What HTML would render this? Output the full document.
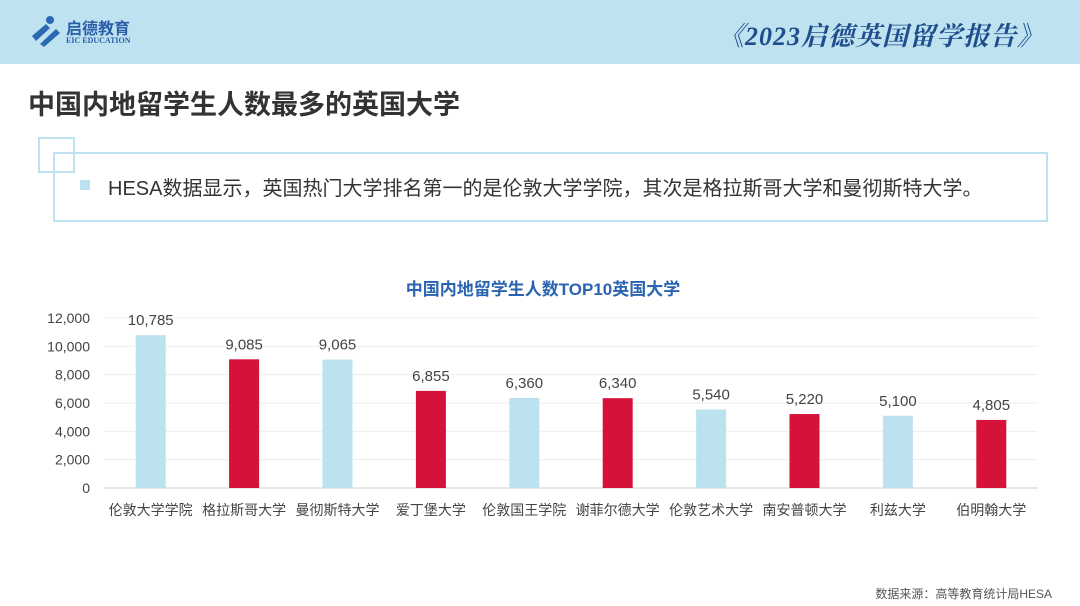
<!DOCTYPE html>
<html><head><meta charset="utf-8"><style>
body{margin:0;width:1080px;height:606px;overflow:hidden;background:#fff;font-family:"Liberation Sans","Noto Sans CJK SC",sans-serif;position:relative}
.abs{position:absolute}
</style></head><body>
<div class="abs" style="left:0;top:0;width:1080px;height:64px;background:#bee2f0"></div>
<div class="abs" style="left:28px;top:14px;width:110px;height:36px">
<svg width="34" height="34" style="position:absolute;left:0;top:0"><circle cx="22" cy="6" r="4" fill="#2a6ab5"/><path d="M4 22 L18 10 L22 14 L8 27Z M12 30 L28 15 L32 19 L16 33Z" fill="#2a6ab5"/></svg>
<div class="abs" style="left:38px;top:1px;font-size:16px;font-weight:bold;color:#2a5ea8;white-space:nowrap">启德教育</div>
<div class="abs" style="left:38px;top:22px;font-size:8px;font-weight:bold;color:#2a5ea8;font-family:'Liberation Serif',serif;white-space:nowrap">EIC EDUCATION</div>
</div>
<div class="abs" style="right:36px;top:16px;font-size:26px;letter-spacing:1px;font-weight:bold;font-style:italic;color:#1f4e8c;white-space:nowrap;font-family:'Liberation Serif','Noto Serif CJK SC',serif">《2023启德英国留学报告》</div>
<div class="abs" style="left:28px;top:83px;font-size:27px;font-weight:bold;color:#333;white-space:nowrap">中国内地留学生人数最多的英国大学</div>
<div class="abs" style="left:53px;top:152px;width:991px;height:66px;border:2px solid #bde2ef"></div>
<div class="abs" style="left:38px;top:137px;width:33px;height:32px;border:2px solid #bde2ef"></div>
<div class="abs" style="left:80px;top:180px;width:10px;height:10px;background:#bde2ef"></div>
<div class="abs" style="left:108px;top:172px;font-size:20px;color:#333;white-space:nowrap">HESA数据显示，英国热门大学排名第一的是伦敦大学学院，其次是格拉斯哥大学和曼彻斯特大学。</div>
<div class="abs" style="right:28px;top:585px;font-size:12px;color:#555;white-space:nowrap">数据来源：高等教育统计局HESA</div>
<svg id="chart" class="abs" style="left:0;top:0" width="1080" height="606"></svg>
<script>
const categories=["伦敦大学学院","格拉斯哥大学","曼彻斯特大学","爱丁堡大学","伦敦国王学院","谢菲尔德大学","伦敦艺术大学","南安普顿大学","利兹大学","伯明翰大学"];
const values=[10785,9085,9065,6855,6360,6340,5540,5220,5100,4805];
const valueLabels=["10,785","9,085","9,065","6,855","6,360","6,340","5,540","5,220","5,100","4,805"];
const ticks=[0,2000,4000,6000,8000,10000,12000];
const tickLabels=["0","2,000","4,000","6,000","8,000","10,000","12,000"];
const svg=document.getElementById('chart');
const NS='http://www.w3.org/2000/svg';
const x0=104,x1=1038,y0=488,y1=318,maxV=12000;
const step=(x1-x0)/categories.length;
const y=v=>y0-(v/maxV)*(y0-y1);
const xc=i=>x0+step*(i+0.5);
function mk(t,a){const e=document.createElementNS(NS,t);for(const k in a)e.setAttribute(k,a[k]);svg.appendChild(e);return e;}
const title=mk('text',{x:543,y:295,'text-anchor':'middle','font-size':17,'font-weight':'bold',fill:'#2a64b0'});
title.textContent='中国内地留学生人数TOP10英国大学';


ticks.forEach((t,i)=>{
 const l=mk('line',{x1:x0,x2:x1,y1:y(t),y2:y(t),stroke:t===0?'#d0d0d0':'#eeeeee','stroke-width':1});
 
 
 const tx=mk('text',{x:90,y:y(t)+5,'text-anchor':'end','font-size':14,fill:'#444'});
 tx.textContent=tickLabels[i];
 
 
});
values.forEach((v,i)=>{
 const w=30;
 const r=mk('rect',{x:xc(i)-w/2,y:y(v),width:w,height:y0-y(v),fill:i%2?'#d4123a':'#bde2ef'});
 
 
 const vl=mk('text',{x:xc(i),y:y(v)-10,'text-anchor':'middle','font-size':15,fill:'#444'});
 vl.textContent=valueLabels[i];
 
 
 const cl=mk('text',{x:xc(i),y:515,'text-anchor':'middle','font-size':14,fill:'#444'});
 cl.textContent=categories[i];
 
 
});
</script>
</body></html>
